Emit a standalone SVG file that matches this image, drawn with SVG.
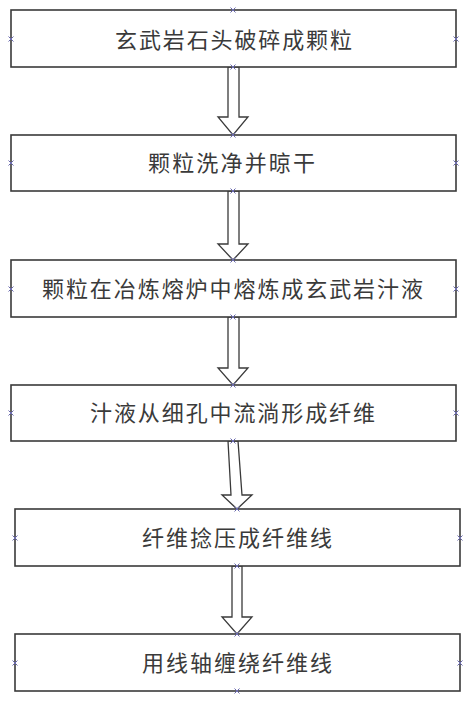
<svg xmlns="http://www.w3.org/2000/svg" xmlns:xlink="http://www.w3.org/1999/xlink" width="474" height="702" viewBox="0 0 474 702">
<style>
.box{fill:#fff;stroke:#3a3a3a;stroke-width:1.6}
.lbl{font-family:"Noto Sans CJK SC","Noto Sans",sans-serif;font-size:22px;fill:#3a3a3a;text-anchor:middle}
.arr{fill:#fff;stroke:#3a3a3a;stroke-width:1.3;stroke-linejoin:miter}
.xm{stroke:#6a6ab0;stroke-width:1;fill:none}
</style>
<defs>
<path id="x" class="xm" d="M-2.5,-2.5L2.5,2.5M-2.5,2.5L2.5,-2.5"/>
</defs>
<rect width="474" height="702" fill="#fff"/>
<g id="connectors">
<polygon class="arr" points="228,67 239,67 239,117 248,117 233,135 218,117 228,117"/>
<polygon class="arr" points="228,191 239,191 239,244 248,244 233,260 218,244 228,244"/>
<polygon class="arr" points="228,317 239,317 239,368 248,368 233,385 218,368 228,368"/>
<polygon class="arr" points="228,441 238,441 242,495 252,495 237,509 222,495 231,495"/>
<polygon class="arr" points="232,566 242,566 242,617 252,617 237,634 222,617 232,617"/>
</g>
<g id="node1">
<rect class="box" x="11" y="10" width="445" height="57"/>
<text class="lbl" x="233.5" y="48" textLength="237" lengthAdjust="spacing">玄武岩石头破碎成颗粒</text>
<use href="#x" x="233" y="10"/><use href="#x" x="11" y="39"/><use href="#x" x="456" y="39"/><use href="#x" x="233" y="67"/>
</g>
<g id="node2">
<rect class="box" x="11" y="135" width="445" height="56"/>
<text class="lbl" x="231.5" y="171" textLength="167" lengthAdjust="spacing">颗粒洗净并晾干</text>
<use href="#x" x="233" y="135"/><use href="#x" x="11" y="163"/><use href="#x" x="456" y="163"/><use href="#x" x="233" y="191"/>
</g>
<g id="node3">
<rect class="box" x="11" y="260" width="445" height="57"/>
<text class="lbl" x="232.5" y="297" textLength="381" lengthAdjust="spacing">颗粒在冶炼熔炉中熔炼成玄武岩汁液</text>
<use href="#x" x="233" y="260"/><use href="#x" x="11" y="289"/><use href="#x" x="456" y="289"/><use href="#x" x="233" y="317"/>
</g>
<g id="node4">
<rect class="box" x="11" y="385" width="445" height="56"/>
<text class="lbl" x="232.5" y="421" textLength="285" lengthAdjust="spacing">汁液从细孔中流淌形成纤维</text>
<use href="#x" x="233" y="385"/><use href="#x" x="11" y="413"/><use href="#x" x="456" y="413"/><use href="#x" x="233" y="441"/>
</g>
<g id="node5">
<rect class="box" x="15" y="509" width="445" height="57"/>
<text class="lbl" x="237" y="546" textLength="190" lengthAdjust="spacing">纤维捻压成纤维线</text>
<use href="#x" x="237" y="509"/><use href="#x" x="15" y="538"/><use href="#x" x="460" y="538"/><use href="#x" x="237" y="566"/>
</g>
<g id="node6">
<rect class="box" x="15" y="634" width="445" height="57"/>
<text class="lbl" x="237" y="671" textLength="190" lengthAdjust="spacing">用线轴缠绕纤维线</text>
<use href="#x" x="237" y="634"/><use href="#x" x="15" y="663"/><use href="#x" x="460" y="663"/><use href="#x" x="237" y="691"/>
</g>
</svg>
